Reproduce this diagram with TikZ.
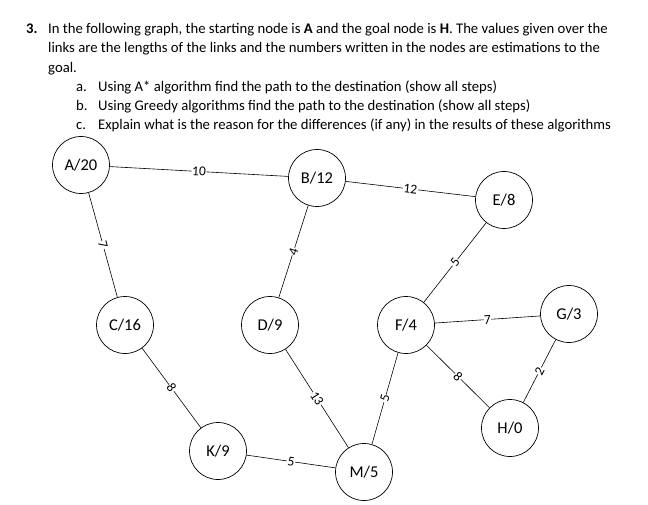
\documentclass[tikz,border=0pt]{standalone}
\usepackage{fontspec}
\setmainfont{Carlito}
\begin{document}
\begin{tikzpicture}[x=1pt,y=-1pt,
  st/.style={circle,draw,line width=0.7pt,minimum size=57pt,inner sep=0pt,font=\fontsize{16.5}{18}\selectfont},
  ed/.style={line width=0.6pt},
  lb/.style={fill=white,inner sep=0.5pt,sloped,font=\fontsize{13.5}{14}\selectfont},
  tx/.style={anchor=base west,inner sep=0pt,font=\fontsize{14.7}{16}\selectfont}]
\useasboundingbox (0,0) rectangle (648,505);
\node[tx] (n3) at (26,34) {\textbf{3.}};
\node[tx] (l1) at (48,34) {In the following graph, the starting node is \textbf{A} and the goal node is \textbf{H}. The values given over the};
\node[tx] (l2) at (48,53) {links are the lengths of the links and the numbers written in the nodes are estimations to the};
\node[tx] (l3) at (48,73) {goal.};
\node[tx] (ia) at (76,92) {a.};
\node[tx] (ta) at (98,92) {Using A* algorithm find the path to the destination (show all steps)};
\node[tx] (ib) at (76,111) {b.};
\node[tx] (tb) at (98,111) {Using Greedy algorithms find the path to the destination (show all steps)};
\node[tx] (ic) at (76,130) {c.};
\node[tx] (tc) at (98,130) {Explain what is the reason for the differences (if any) in the results of these algorithms};

\node[st] (A) at (81,165) {A/20};
\node[st] (B) at (317,178) {B/12};
\node[st] (E) at (504,200) {E/8};
\node[st] (C) at (125,325) {C/16};
\node[st] (D) at (270,325) {D/9};
\node[st] (F) at (406,325) {F/4};
\node[st] (G) at (569,314) {G/3};
\node[st] (H) at (510,428) {H/0};
\node[st] (K) at (218,451) {K/9};
\node[st] (M) at (364,472) {M/5};

\draw[ed] (A) -- node[lb]{10} (B);
\draw[ed] (B) -- node[lb]{12} (E);
\draw[ed] (C) -- node[lb]{7} (A);
\draw[ed] (D) -- node[lb]{4} (B);
\draw[ed] (F) -- node[lb]{5} (E);
\draw[ed] (F) -- node[lb]{7} (G);
\draw[ed] (C) -- node[lb]{8} (K);
\draw[ed] (D) -- node[lb]{13} (M);
\draw[ed] (M) -- node[lb]{5} (F);
\draw[ed] (F) -- node[lb]{8} (H);
\draw[ed] (H) -- node[lb]{2} (G);
\draw[ed] (K) -- node[lb]{5} (M);
\end{tikzpicture}
\end{document}
